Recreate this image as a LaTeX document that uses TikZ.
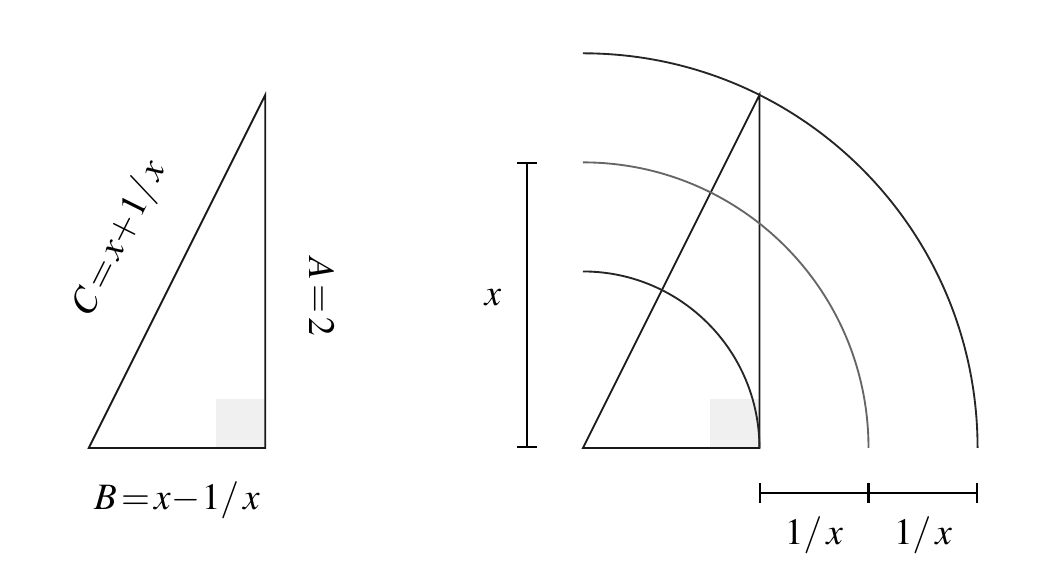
\documentclass[tikz,border=0pt]{standalone}
\usepackage{amsmath, tikz, mathptmx}
\tikzset{>=stealth}
\usetikzlibrary{calc}
\tikzset{
  side/.style={line width=0.6pt, black!90},
  bracket/.style={line width=0.6pt, |-|},
  lbl/.style={font=\fontsize{12}{14}\selectfont, inner sep=0pt},
  corner/.style={fill=gray!12}
}
\begin{document}
\begin{tikzpicture}[scale=2]
    \useasboundingbox (-3.303,-0.7195) rectangle (2.669,2.538);
    % left triangle
    \coordinate (L1) at (-2.8,0);
    \coordinate (L2) at (-1.8,0);
    \coordinate (L3) at (-1.8,2);
    \fill[corner] ($(L2)+(-0.28,0)$) rectangle ($(L2)+(0,0.28)$);
    \draw[side] (L1) -- (L2) -- (L3) -- cycle;
    \node[lbl] (labB) at (-2.3,-0.295) {$B\!=\!x\mskip-2mu-\mskip-2mu1/\,x$};
    \node[lbl, rotate=-90] (labA) at (-1.48,0.855) {$A\!=\!2$};
    \node[lbl, rotate=63.43] (labC) at (-2.62,1.19) {$C\!=\!x\!+\!1/\,x$};
    % right triangle with arcs
    \coordinate (O) at (0,0);
    \coordinate (R2) at (1,0);
    \coordinate (R3) at (1,2);
    \fill[corner] ($(R2)+(-0.28,0)$) rectangle ($(R2)+(0,0.28)$);
    \draw[side] (O) -- (R2) -- (R3) -- cycle;
    \draw[line width=0.6pt, black!85] (0,1) arc (90:0:1);
    \draw[line width=0.6pt, black!60] (0,1.618) arc (90:0:1.618);
    \draw[line width=0.6pt, black!85] (0,2.236) arc (90:0:2.236);
    % measures
    \coordinate (X0) at (-0.317,0);
    \coordinate (X1) at (-0.317,1.618);
    \draw[bracket] (X0) -- (X1);
    \node[lbl] (labX) at (-0.51,0.85) {$x$};
    \coordinate (M0) at (1,-0.255);
    \coordinate (M1) at (1.618,-0.255);
    \coordinate (M2) at (2.236,-0.255);
    \draw[bracket] (M0) -- (M1);
    \draw[bracket] (M1) -- (M2);
    \node[lbl] (labM1) at (1.309,-0.493) {$1/\,x$};
    \node[lbl] (labM2) at (1.927,-0.493) {$1/\,x$};
\end{tikzpicture}
\end{document}
